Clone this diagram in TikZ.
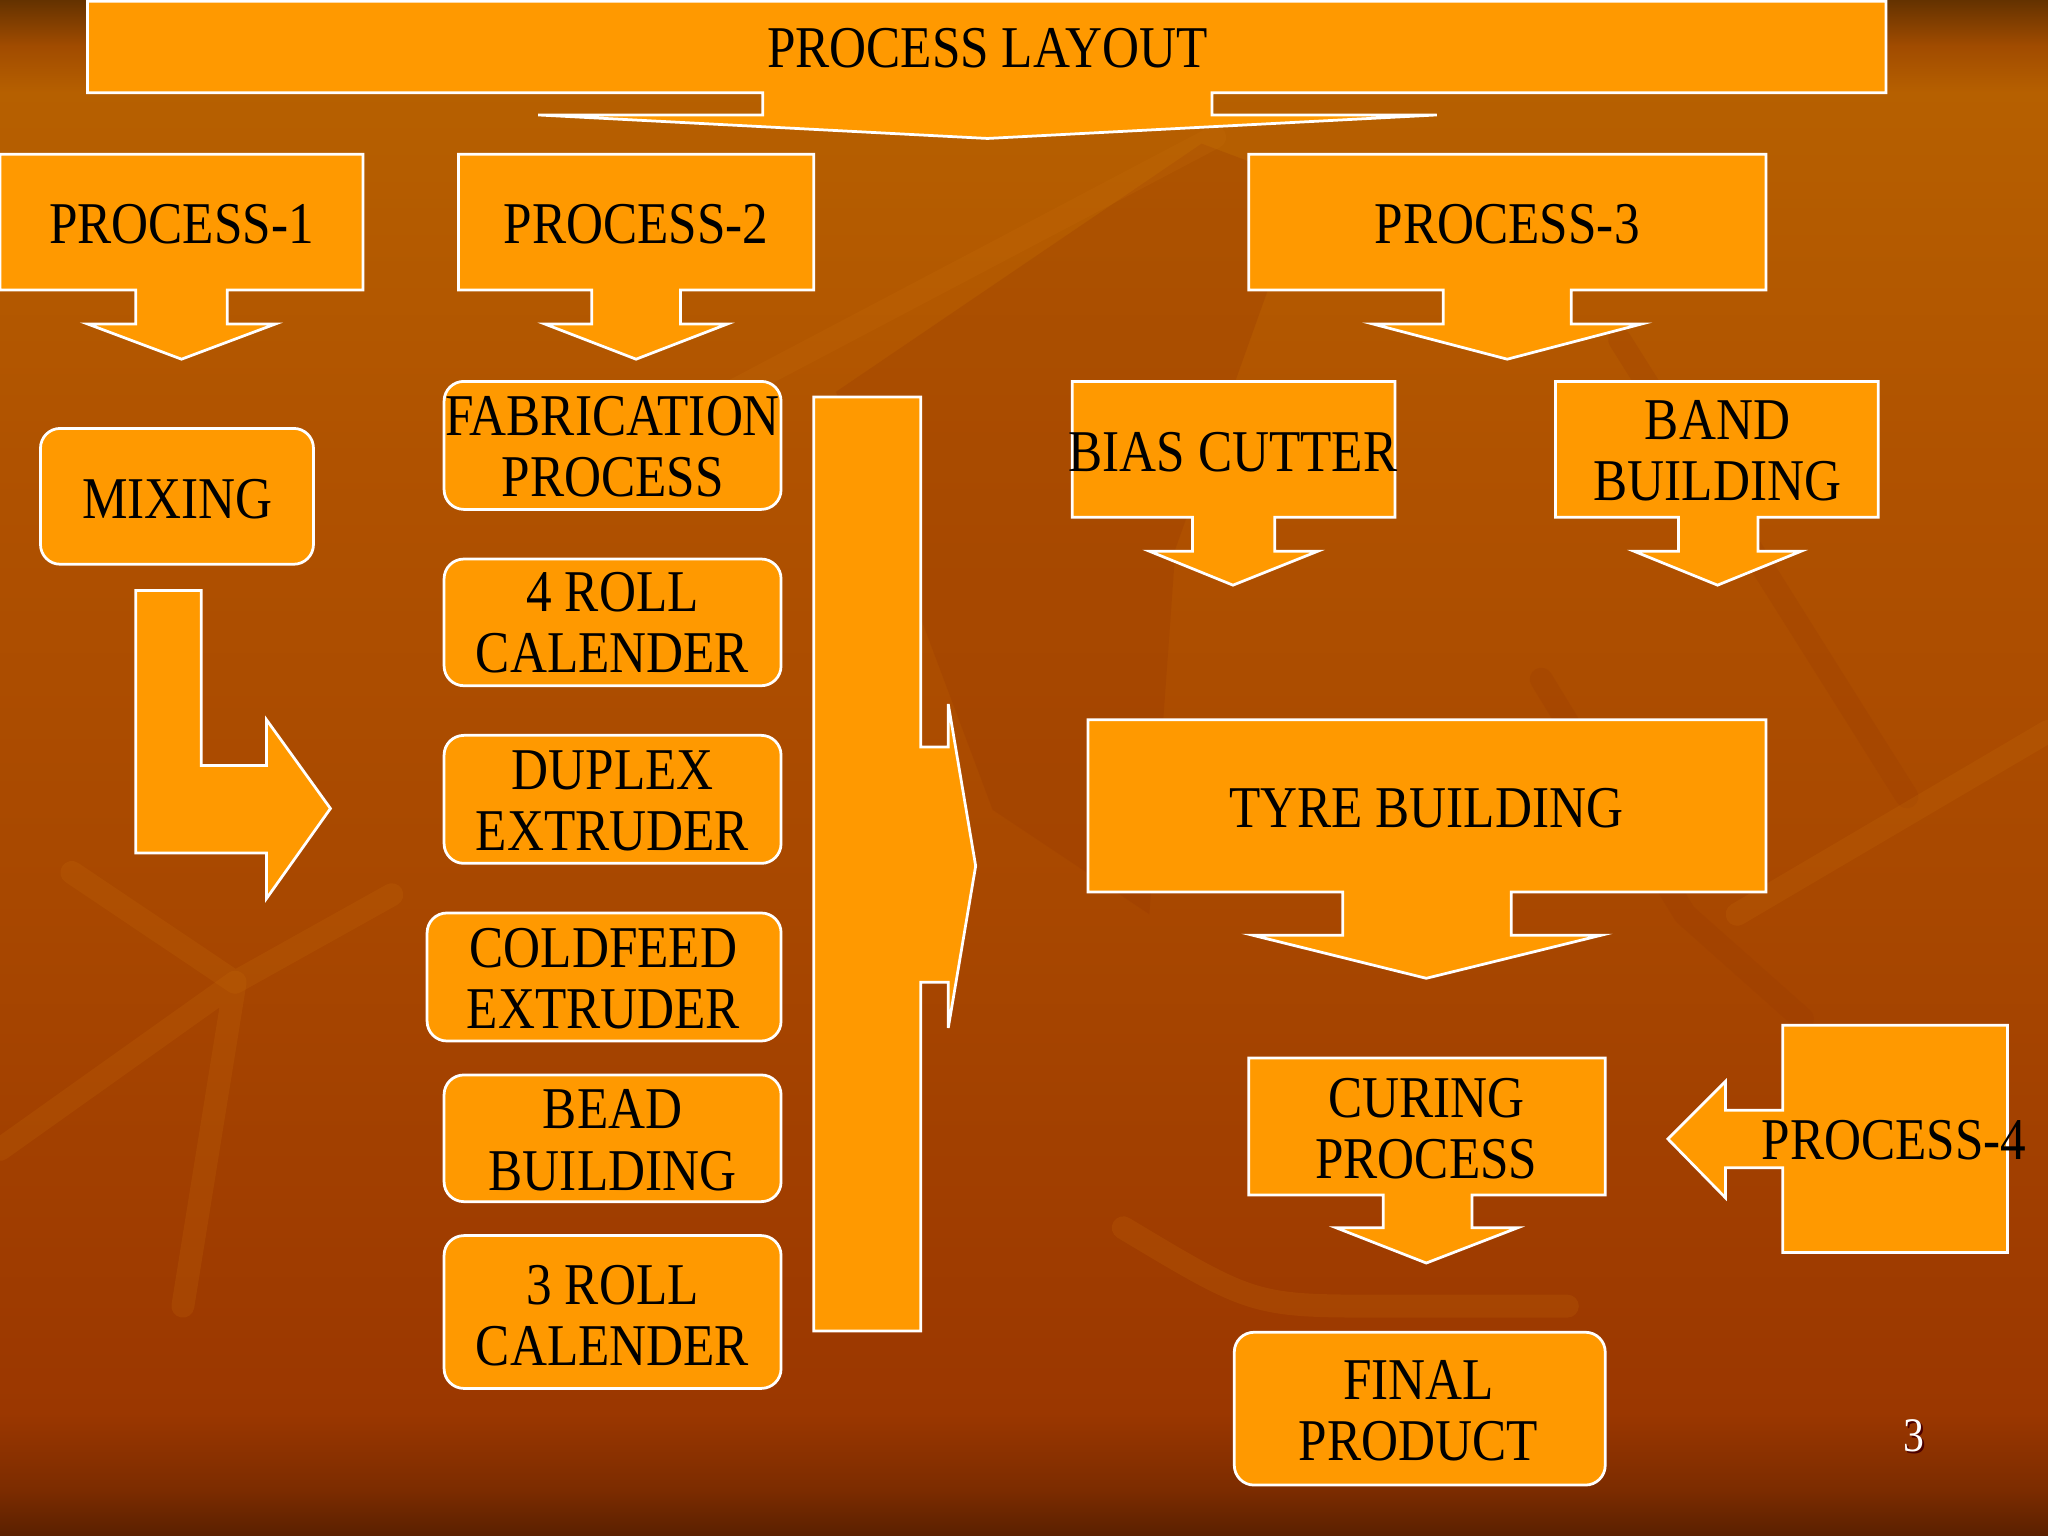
\documentclass[tikz,border=0pt]{standalone}
\usepackage{fontspec}
\setmainfont{Liberation Serif}[FakeStretch=0.865]
\usepackage{xcolor}
\usepackage{tikz}
\usetikzlibrary{positioning, calc}
\definecolor{boxorange}{RGB}{255,153,0}
\definecolor{bgmid}{RGB}{176,82,0}
\definecolor{bgtop}{RGB}{100,50,0}
\definecolor{bglow}{RGB}{155,55,0}
\definecolor{bgbottom}{RGB}{90,32,0}
\definecolor{leaflight}{RGB}{200,110,10}
\definecolor{leafdark}{RGB}{150,55,0}
% stops between 25bp (bottom edge) and 75bp (top edge)
\pgfdeclareverticalshading{bgshade}{100bp}{
  color(0bp)=(bgbottom); color(25bp)=(bgbottom); color(26.5bp)=(black!20!bglow);
  color(29bp)=(bglow); color(45bp)=(bgmid!60!bglow); color(60bp)=(bgmid);
  color(72bp)=(bgmid!92!yellow); color(73.5bp)=(bgmid!80!bgtop);
  color(75bp)=(bgtop); color(100bp)=(bgtop)}
\tikzset{
  callout/.style={draw=white, fill=boxorange, line width=0.6pt, line join=miter},
  roundbox/.style={draw=white, fill=boxorange, line width=0.6pt, rounded corners=4.3pt},
  lbl/.style={inner sep=0pt, align=center, font=\fontsize{12.9}{13.3}\selectfont},
  leaf/.style={line width=5pt, line cap=round, line join=round, opacity=0.2}
}

\begin{document}
\begin{tikzpicture}[x=0.1mm, y=-0.1mm]
  \useasboundingbox (0,0) rectangle (1568,1176);
  % background
  \shade[shading=bgshade] (0,0) rectangle (1568,1176);
  \fill[leafdark, opacity=0.25] (640,300) -- (920,110) -- (1000,140) -- (900,420) -- (880,700) -- (760,620) -- cycle;
  \draw[leaf, leaflight] (560,300) -- (930,105);
  \draw[leaf, leaflight] (55,668) -- (180,752) -- (300,685);
  \draw[leaf, leaflight] (0,880) -- (180,752) -- (140,1000);
  \draw[leaf, leaflight] (860,940) .. controls (960,1000) .. (1060,1000) -- (1200,1000);
  \draw[leaf, leafdark] (1240,260) -- (1460,610);
  \draw[leaf, leafdark] (1180,520) -- (1290,700) -- (1380,780);
  \draw[leaf, leaflight] (1330,700) -- (1568,560);

  % top banner
  \draw[callout] (67,1) -- (1444,1) -- (1444,71) -- (928,71) -- (928,88) -- (1100,88)
    -- (756,106) -- (412,88) -- (584,88) -- (584,71) -- (67,71) -- cycle;
  \node[lbl] (layout) at (756,37) {PROCESS LAYOUT};

  % process headers
  \draw[callout] (0,118) -- (278,118) -- (278,222) -- (174,222) -- (174,248) -- (211,248)
    -- (139,275) -- (67,248) -- (104,248) -- (104,222) -- (0,222) -- cycle;
  \node[lbl] (p1) at (139,172) {PROCESS-1};
  \draw[callout] (351,118) -- (623,118) -- (623,222) -- (521,222) -- (521,248) -- (557,248)
    -- (487,275) -- (417,248) -- (453,248) -- (453,222) -- (351,222) -- cycle;
  \node[lbl] (p2) at (487,172) {PROCESS-2};
  \draw[callout] (956,118) -- (1352,118) -- (1352,222) -- (1203,222) -- (1203,248) -- (1257,248)
    -- (1154,275) -- (1051,248) -- (1105,248) -- (1105,222) -- (956,222) -- cycle;
  \node[lbl] (p3) at (1154,172) {PROCESS-3};

  % process 1
  \draw[roundbox] (31,328) rectangle (240,432);
  \node[lbl] (mixing) at (136,382) {MIXING};
  \draw[callout] (104,452) -- (154,452) -- (154,586) -- (204,586) -- (204,551) -- (253,619)
    -- (204,688) -- (204,653) -- (104,653) -- cycle;

  % process 2
  \draw[roundbox] (340,292) rectangle (598,390);
  \node[lbl] (fab) at (469,342) {FABRICATION\\PROCESS};
  \draw[roundbox] (340,428) rectangle (598,525);
  \node[lbl] (fourroll) at (469,477) {4 ROLL\\CALENDER};
  \draw[roundbox] (340,563) rectangle (598,661);
  \node[lbl] (duplex) at (469,613) {DUPLEX\\EXTRUDER};
  \draw[roundbox] (327,699) rectangle (598,797);
  \node[lbl] (coldfeed) at (462,749) {COLDFEED\\EXTRUDER};
  \draw[roundbox] (340,823) rectangle (598,920);
  \node[lbl] (bead) at (469,873) {BEAD\\BUILDING};
  \draw[roundbox] (340,946) rectangle (598,1063);
  \node[lbl] (threeroll) at (469,1007) {3 ROLL\\CALENDER};
  \draw[callout] (623,304) -- (705,304) -- (705,572) -- (726,572) -- (726,539) -- (747,663)
    -- (726,787) -- (726,752) -- (705,752) -- (705,1019) -- (623,1019) -- cycle;

  % process 3
  \draw[callout] (821,292) -- (1068,292) -- (1068,396) -- (976,396) -- (976,422) -- (1009,422)
    -- (944,448) -- (880,422) -- (913,422) -- (913,396) -- (821,396) -- cycle;
  \node[lbl] (bias) at (944,346) {BIAS CUTTER};
  \draw[callout] (1191,292) -- (1438,292) -- (1438,396) -- (1346,396) -- (1346,422) -- (1379,422)
    -- (1315,448) -- (1251,422) -- (1285,422) -- (1285,396) -- (1191,396) -- cycle;
  \node[lbl] (band) at (1315,345) {BAND\\BUILDING};
  \draw[callout] (833,551) -- (1352,551) -- (1352,683) -- (1157,683) -- (1157,716) -- (1226,716)
    -- (1092,749) -- (959,716) -- (1028,716) -- (1028,683) -- (833,683) -- cycle;
  \node[lbl] (tyre) at (1092,619) {TYRE BUILDING};

  % process 4
  \draw[callout] (956,810) -- (1229,810) -- (1229,915) -- (1127,915) -- (1127,940) -- (1162,940)
    -- (1092,967) -- (1023,940) -- (1059,940) -- (1059,915) -- (956,915) -- cycle;
  \node[lbl] (curing) at (1092,864) {CURING\\PROCESS};
  \draw[callout] (1365,785) -- (1537,785) -- (1537,959) -- (1365,959) -- (1365,894) -- (1321,894)
    -- (1321,917) -- (1277,872) -- (1321,828) -- (1321,850) -- (1365,850) -- cycle;
  \node[lbl] (p4) at (1450,873) {PROCESS-4};
  \draw[roundbox] (945,1020) rectangle (1229,1137);
  \node[lbl] (final) at (1086,1080) {FINAL\\PRODUCT};

  % page number
  \node[inner sep=0pt, font=\fontsize{10.5}{12}\selectfont, text=black!70!red] at (1466.5,1100.5) {3};
  \node[inner sep=0pt, font=\fontsize{10.5}{12}\selectfont, text=white] (pgno) at (1465,1099) {3};
\end{tikzpicture}
\end{document}
